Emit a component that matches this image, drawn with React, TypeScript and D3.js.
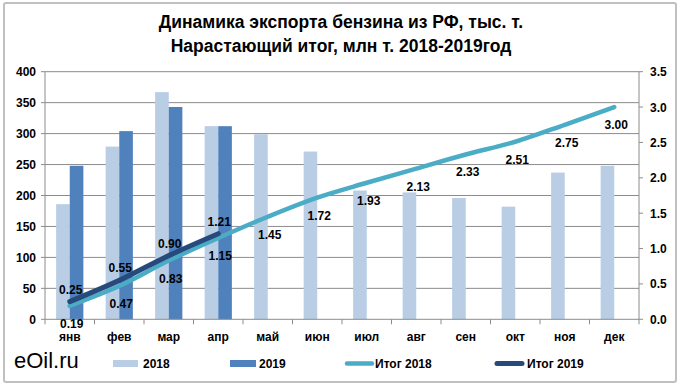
import React from "react";
import * as d3 from "d3";

// data
const months = ["янв", "фев", "мар", "апр", "май", "июн", "июл", "авг", "сен", "окт", "ноя", "дек"];
const exp2018 = [186, 279, 367, 312, 299, 271, 208, 205, 196, 182, 237, 248];
const exp2019 = [248, 304, 343, 312];
const total2018 = [0.19, 0.47, 0.83, 1.15, 1.45, 1.72, 1.93, 2.13, 2.33, 2.51, 2.75, 3.0];
const total2019 = [0.25, 0.55, 0.9, 1.21];
const leftTicks = [0, 50, 100, 150, 200, 250, 300, 350, 400];
const rightTicks = [0, 0.5, 1, 1.5, 2, 2.5, 3, 3.5];

const W = 682;
const H = 389;
const left = 45;
const right = 639;
const top = 71.7;
const bottom = 319.3;

const font = "'Liberation Sans', Arial, sans-serif";

export default function App() {
  const x = d3.scaleBand<string>().domain(months).range([left, right]);
  const bw = x.bandwidth();
  const barW = bw * 0.275;
  const yL = d3.scaleLinear().domain([0, 400]).range([bottom, top]);
  const yR = d3.scaleLinear().domain([0, 3.5]).range([bottom, top]);
  const cx = (i: number) => (x(months[i]) as number) + bw / 2;

  const line = d3
    .line<number>()
    .x((_, i) => cx(i))
    .y((d) => yR(d))
    .curve(d3.curveCatmullRom.alpha(0.5));

  return (
    <svg width={W} height={H} style={{ position: "absolute", left: 0, top: 0 }}>
      <rect x={0} y={0} width={W} height={H} fill="#fff" />
      <rect x={4} y={3} width={672} height={379} rx={2} fill="#fff" stroke="#c0c0c0" strokeWidth={2} />

      {/* title */}
      <text x={341} y={28} textAnchor="middle" fontFamily={font} fontWeight="bold" fontSize={17.5} fill="#000">
        Динамика экспорта бензина из РФ, тыс. т.
      </text>
      <text x={341} y={52} textAnchor="middle" fontFamily={font} fontWeight="bold" fontSize={17.5} fill="#000">
        Нарастающий итог, млн т. 2018-2019год
      </text>

      {/* gridlines */}
      {leftTicks.slice(1).map((t) => (
        <line key={"g" + t} x1={left} x2={right} y1={yL(t)} y2={yL(t)} stroke="#8c8c8c" strokeWidth={1} />
      ))}

      {/* bars */}
      {exp2018.map((v, i) => {
        const x0 = (x(months[i]) as number) + (bw - 2 * barW) / 2;
        return <rect key={"a" + i} x={x0} y={yL(v)} width={barW} height={bottom - yL(v)} fill="#B9CDE5" />;
      })}
      {exp2019.map((v, i) => {
        const x0 = (x(months[i]) as number) + (bw - 2 * barW) / 2 + barW;
        return <rect key={"b" + i} x={x0} y={yL(v)} width={barW} height={bottom - yL(v)} fill="#4F81BD" />;
      })}

      {/* axes */}
      <line x1={left} x2={left} y1={top} y2={bottom} stroke="#8c8c8c" />
      <line x1={right} x2={right} y1={top} y2={bottom} stroke="#8c8c8c" />
      <line x1={left} x2={right} y1={bottom} y2={bottom} stroke="#8c8c8c" />
      {leftTicks.map((t) => (
        <g key={"l" + t}>
          <line x1={left - 4} x2={left} y1={yL(t)} y2={yL(t)} stroke="#8c8c8c" />
          <text x={36} y={yL(t) + 4.5} textAnchor="end" fontFamily={font} fontWeight="bold" fontSize={12}>
            {t}
          </text>
        </g>
      ))}
      {rightTicks.map((t) => (
        <g key={"r" + t}>
          <line x1={right} x2={right + 4} y1={yR(t)} y2={yR(t)} stroke="#8c8c8c" />
          <text x={650} y={yR(t) + 4.5} fontFamily={font} fontWeight="bold" fontSize={12}>
            {t.toFixed(1)}
          </text>
        </g>
      ))}
      {months.map((m, i) => (
        <g key={"m" + m}>
          <line x1={x(m) as number} x2={x(m) as number} y1={bottom} y2={bottom + 5} stroke="#8c8c8c" />
          {i === months.length - 1 && (
            <line x1={right} x2={right} y1={bottom} y2={bottom + 5} stroke="#8c8c8c" />
          )}
          <text x={cx(i)} y={341} textAnchor="middle" fontFamily={font} fontWeight="bold" fontSize={12}>
            {m}
          </text>
        </g>
      ))}

      {/* cumulative lines */}
      <path d={line(total2018) ?? ""} fill="none" stroke="#4BACC6" strokeWidth={4.5} strokeLinecap="round" />
      <path d={line(total2019) ?? ""} fill="none" stroke="#254A7B" strokeWidth={5} strokeLinecap="round" />

      {total2018.map((v, i) => (
        <text key={"t18" + i} x={cx(i) + 2} y={yR(v) + 22} textAnchor="middle" fontFamily={font} fontWeight="bold" fontSize={12}>
          {v.toFixed(2)}
        </text>
      ))}
      {total2019.map((v, i) => (
        <text key={"t19" + i} x={cx(i) + 1} y={yR(v) - 8} textAnchor="middle" fontFamily={font} fontWeight="bold" fontSize={12}>
          {v.toFixed(2)}
        </text>
      ))}

      {/* watermark + legend */}
      <text x={14} y={368} fontFamily={font} fontSize={22} fill="#000">
        eOil.ru
      </text>
      <rect x={113} y={360} width={25} height={7} fill="#B9CDE5" />
      <text x={143} y={368} fontFamily={font} fontWeight="bold" fontSize={12}>2018</text>
      <rect x={230} y={360} width={26} height={7} fill="#4F81BD" />
      <text x={259} y={368} fontFamily={font} fontWeight="bold" fontSize={12}>2019</text>
      <line x1={347} x2={372} y1={363.5} y2={363.5} stroke="#4BACC6" strokeWidth={4.5} strokeLinecap="round" />
      <text x={375} y={368} fontFamily={font} fontWeight="bold" fontSize={12}>Итог 2018</text>
      <line x1={497} x2={522} y1={363.5} y2={363.5} stroke="#254A7B" strokeWidth={5} strokeLinecap="round" />
      <text x={527} y={368} fontFamily={font} fontWeight="bold" fontSize={12}>Итог 2019</text>
    </svg>
  );
}
